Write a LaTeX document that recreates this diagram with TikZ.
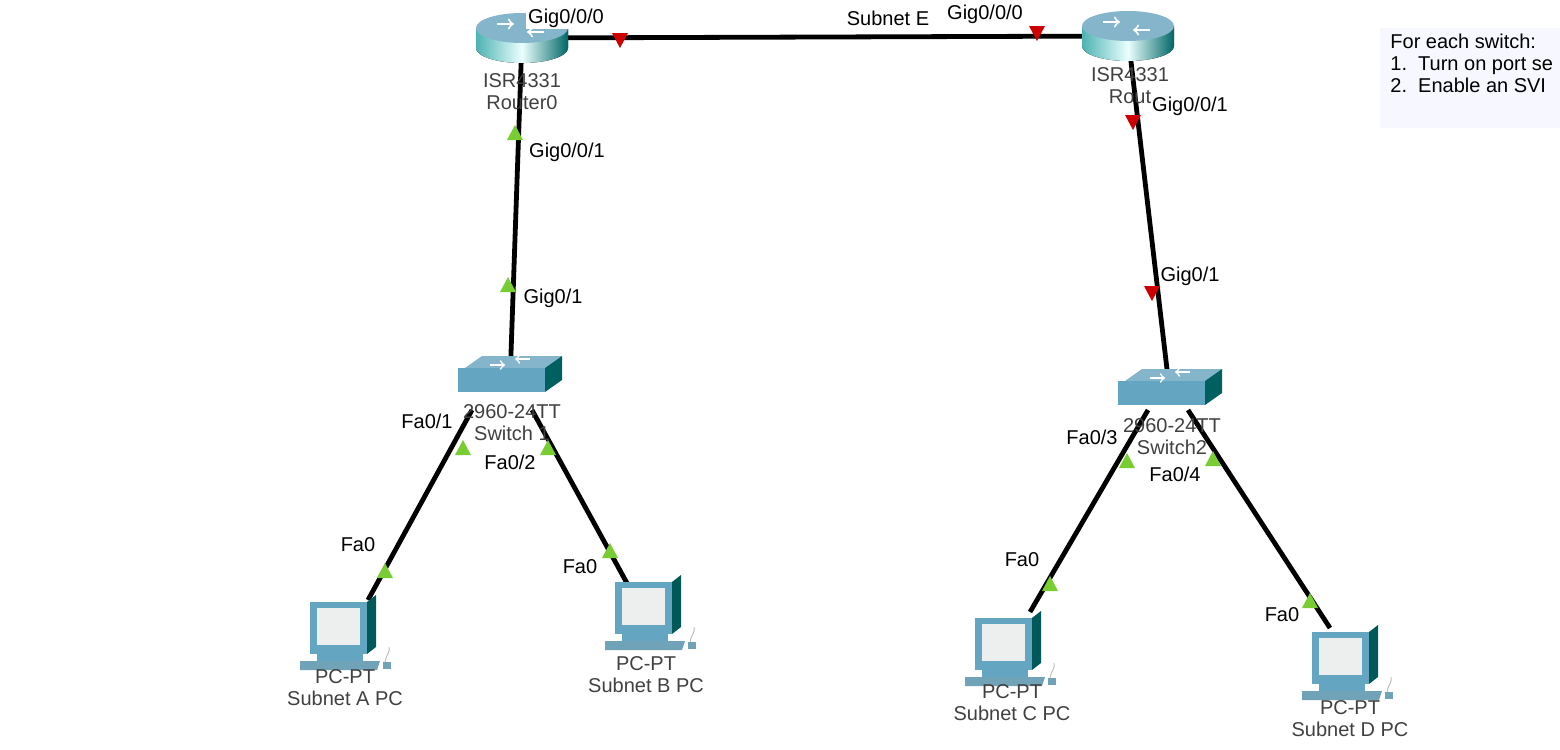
\documentclass[tikz,border=0pt]{standalone}
\usepackage{fontspec}
\setmainfont{Liberation Sans}
\begin{document}
\begin{tikzpicture}[x=0.5pt,y=-0.5pt,
 lbl/.style={font=\fontsize{10}{11}\selectfont,inner sep=1pt,align=center},
 gry/.style={lbl,text=black!75},
 link/.style={line width=2.4pt,black},
 up/.pic={\fill[green!55!black!55!lime!80!white] (-8,7)--(8,7)--(0,-8)--cycle;},
 dn/.pic={\fill[red!80!black] (-8,-7)--(8,-7)--(0,8)--cycle;},
 router/.pic={
  \fill[left color=cyan!40!gray,right color=teal!80!black,middle color=cyan!8] (-46,0) -- (-46,20) arc[start angle=180,end angle=0,x radius=46,y radius=15] -- (46,0) -- cycle;
  \fill[cyan!45!gray!80] (0,0) ellipse[x radius=46,y radius=15];
  \draw[white,line width=1pt,->] (-25,-4)--(-8,-4); \draw[white,line width=1pt,->] (22,4)--(5,4);
 },
 switch/.pic={
  \fill[cyan!45!gray!80] (-45,-12)--(35,-12)--(52,-24)--(-28,-24)--cycle;
  \fill[cyan!50!gray] (-52,-12) rectangle (35,12);
  \fill[teal!75!black] (35,-12)--(52,-24)--(52,0)--(35,12)--cycle;
  \draw[white,line width=0.8pt,->] (-20,-15)--(-5,-15); \draw[white,line width=0.8pt,->] (20,-21)--(5,-21);
 },
 pc/.pic={
  \fill[teal!70!black] (24,-30)--(33,-37)--(33,15)--(24,22)--cycle;
  \fill[cyan!50!gray] (-33,-30) rectangle (24,22);
  \fill[cyan!8!gray!15] (-26,-24) rectangle (17,13);
  \fill[cyan!50!gray] (-26,22) rectangle (20,29);
  \fill[cyan!40!gray] (-43,29) -- (37,29) -- (34,38) -- (-43,38) -- cycle;
  \fill[cyan!40!gray] (40,30) rectangle (48,37);
  \draw[gray!60] (42,30) .. controls (44,20) and (47,22) .. (46,15);
 }]
\useasboundingbox (0,0) rectangle (1560,750);
\coordinate (r0) at (522,38); \coordinate (r1) at (1128,36);
\coordinate (s1) at (510,382); \coordinate (s2) at (1170,395);
\coordinate (pa) at (343,632); \coordinate (pb) at (648,612);
\coordinate (pc) at (1008,648); \coordinate (pd) at (1345,662);
\coordinate (s1a) at (472,410); \coordinate (s1b) at (532,410);
\coordinate (s2c) at (1148,410); \coordinate (s2d) at (1188,410);
\coordinate (paa) at (368,600); \coordinate (pbb) at (628,585);
\coordinate (pcc) at (1030,612); \coordinate (pdd) at (1330,628);
\draw[link] (r0) -- (r1);
\draw[link] (r0) -- (s1);
\draw[link] (r1) -- (s2);
\draw[link] (s1a) -- (paa); \draw[link] (s1b) -- (pbb);
\draw[link] (s2c) -- (pcc); \draw[link] (s2d) -- (pdd);
\pic at (522,28) {router}; \pic at (1128,26) {router};
\pic at (510,380) {switch}; \pic at (1170,393) {switch};
\pic at (pa) {pc}; \pic at (pb) {pc}; \pic at (pc) {pc}; \pic at (pd) {pc};
\pic at (515,133) {up}; \pic at (508,285) {up};
\pic at (463,448) {up}; \pic at (548,448) {up};
\pic at (385,571) {up}; \pic at (610,551) {up};
\pic at (1127,461) {up}; \pic at (1213,459) {up};
\pic at (1050,584) {up}; \pic at (1310,601) {up};
\pic at (620,40) {dn}; \pic at (1037,33) {dn};
\pic at (1133,122) {dn}; \pic at (1152,293) {dn};
\node[lbl,fill=white] (l1) at (566,18) {Gig0/0/0};
\node[lbl,fill=white,inner xsep=5pt,inner ysep=3pt] (l2) at (888,18) {Subnet E};
\node[lbl] (l3) at (985,14) {Gig0/0/0};
\node[gry] (n1) at (522,92) {ISR4331\\Router0};
\node[gry] (n2) at (1130,86) {ISR4331\\Rout};
\node[lbl] (l4) at (1190,106) {Gig0/0/1};
\node[lbl] (l5) at (567,152) {Gig0/0/1};
\node[lbl] (l6) at (553,298) {Gig0/1};
\node[lbl] (l7) at (1190,276) {Gig0/1};
\node[gry] (n3) at (512,423) {2960-24TT\\Switch 1};
\node[gry] (n4) at (1172,437) {2960-24TT\\Switch2};
\node[lbl] (l8) at (427,421) {Fa0/1};
\node[lbl] (l9) at (510,462) {Fa0/2};
\node[lbl] (l10) at (1092,437) {Fa0/3};
\node[lbl] (l11) at (1175,474) {Fa0/4};
\node[lbl] (l12) at (358,545) {Fa0};
\node[lbl] (l13) at (580,567) {Fa0};
\node[lbl] (l14) at (1022,560) {Fa0};
\node[lbl] (l15) at (1282,615) {Fa0};
\node[gry] (n5) at (345,688) {PC-PT\\Subnet A PC};
\node[gry] (n6) at (646,675) {PC-PT\\Subnet B PC};
\node[gry] (n7) at (1012,703) {PC-PT\\Subnet C PC};
\node[gry] (n8) at (1350,719) {PC-PT\\Subnet D PC};
\fill[blue!3] (1380,28) rectangle (1560,128);
\node[lbl,anchor=north west,align=left] (note) at (1388,32) {For each switch:\\1.\ \ Turn on port se\\2.\ \ Enable an SVI};
\end{tikzpicture}
\end{document}
